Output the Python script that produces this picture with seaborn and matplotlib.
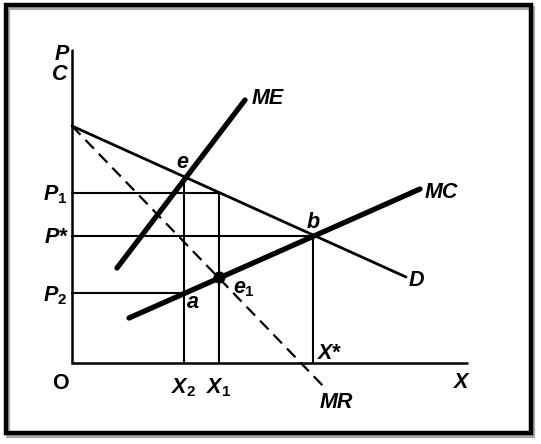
import matplotlib
matplotlib.use("Agg")
import matplotlib.pyplot as plt
import seaborn as sns
import pandas as pd
from matplotlib.patches import Rectangle

sns.set_style("white")
plt.rcParams['font.family'] = ['Liberation Sans', 'DejaVu Sans']
plt.rcParams['mathtext.fontset'] = 'custom'
plt.rcParams['mathtext.it'] = 'Liberation Sans:italic:bold'
plt.rcParams['mathtext.rm'] = 'Liberation Sans:bold'
plt.rcParams['mathtext.bf'] = 'Liberation Sans:bold'

# ---- data (curve end points, in chart units) ----
d_x = [0.0, 33.4]
d_y = [23.7, 8.6]
mr_x = [0.0, 25.5]
mr_y = [23.7, -2.7]
me_x = [4.5, 17.3]
me_y = [9.5, 26.3]
mc_x = [5.7, 34.8]
mc_y = [4.5, 17.4]

# key quantities
X2, X1, Xstar = 11.2, 14.7, 24.1
P1, Pstar, P2 = 17.0, 12.7, 7.0
e_y = 18.2        # price on D at X2 (point e)
e1_y = 8.6        # MC at X1 (point e1)
axis_top = 31.3
axis_right = 39.5

fig = plt.figure(figsize=(5.41, 4.44), dpi=100)
ax = fig.add_axes([0, 0, 1, 1])
ax.set_xlim(-7.2, 46.9)
ax.set_ylim(-8.1, 36.3)
ax.axis('off')

# frame with shadow
fig.patches.append(Rectangle((8 / 541, 1 - 436 / 444), 525 / 541, 428 / 444,
                             transform=fig.transFigure, fill=False,
                             edgecolor='#a8a8a8', linewidth=3, zorder=0))
fig.patches.append(Rectangle((5.5 / 541, 1 - 432.5 / 444), 525 / 541, 427 / 444,
                             transform=fig.transFigure, fill=False,
                             edgecolor='black', linewidth=3.2, zorder=1))

k = 'black'
# axes
ax.plot([0, 0, axis_right], [axis_top, 0, 0], color=k, lw=1.8, solid_joinstyle='miter')

def seg(xs, ys, lw, **kw):
    df = pd.DataFrame({'x': xs, 'y': ys})
    sns.lineplot(data=df, x='x', y='y', ax=ax, color=k, lw=lw, sort=False,
                 estimator=None, **kw)

# demand & MR
seg(d_x, d_y, 2.0)
ax.plot(mr_x, mr_y, color=k, lw=1.6, dashes=(5.5, 3.2))
# ME and MC (thick)
seg(me_x, me_y, 3.8, solid_capstyle='round')
seg(mc_x, mc_y, 3.8, solid_capstyle='round')

# guide lines
seg([0, X1], [P1, P1], 1.5)
seg([X1, X1], [0, P1], 1.5)
seg([0, Xstar], [Pstar, Pstar], 1.5)
seg([Xstar, Xstar], [0, Pstar], 1.5)
seg([0, X2], [P2, P2], 1.5)
seg([X2, X2], [0, e_y], 1.5)

# point e1
sns.scatterplot(x=[X1], y=[e1_y], ax=ax, color=k, s=65, zorder=5, edgecolor=k)

fs = 15.5
tk = dict(fontsize=fs, fontweight='bold', fontstyle='italic', color=k)
ax.text(-1.0, 30.8, 'P', ha='center', va='center', **tk)
ax.text(-1.2, 28.8, 'C', ha='center', va='center', **tk)
ax.text(18.0, 26.5, 'ME', ha='left', va='center', **tk)
ax.text(35.3, 17.1, 'MC', ha='left', va='center', **tk)
ax.text(33.7, 8.3, 'D', ha='left', va='center', **tk)
ax.text(11.0, 20.0, 'e', ha='center', va='center', **tk)
ax.text(24.1, 14.1, 'b', ha='center', va='center', **tk)
ax.text(16.1, 7.5, r'$e_1$', ha='left', va='center', fontsize=fs, color=k)
ax.text(12.1, 6.1, 'a', ha='center', va='center', **tk)
ax.text(-0.5, 16.8, r'$P_1$', ha='right', va='center', fontsize=fs, color=k)
ax.text(-0.5, 12.6, 'P*', ha='right', va='center', **tk)
ax.text(-0.5, 6.7, r'$P_2$', ha='right', va='center', fontsize=fs, color=k)
ax.text(-1.2, -2.0, 'O', ha='center', va='center', fontsize=fs, fontweight='bold', color=k)
ax.text(11.15, -2.5, r'$X_2$', ha='center', va='center', fontsize=fs, color=k)
ax.text(14.7, -2.5, r'$X_1$', ha='center', va='center', fontsize=fs, color=k)
ax.text(24.6, 1.0, 'X*', ha='left', va='center', **tk)
ax.text(38.9, -1.9, 'X', ha='center', va='center', **tk)
ax.text(24.8, -3.9, 'MR', ha='left', va='center', **tk)

fig.savefig('out.png', dpi=100)
